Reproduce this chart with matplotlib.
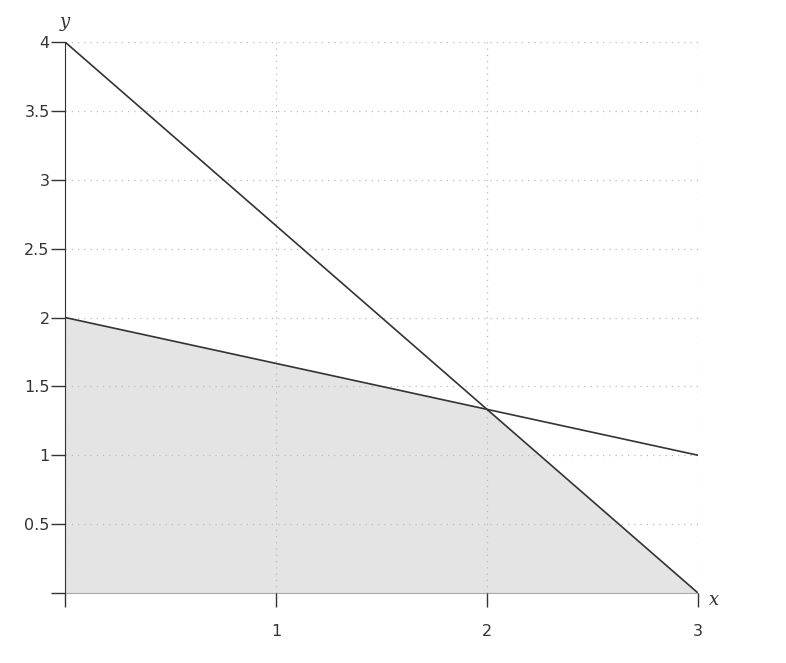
import numpy as np
import matplotlib
matplotlib.use('Agg')
import matplotlib.pyplot as plt

## data ##
line1_x = [0, 3]
line1_y = [4, 0]
line2_x = [0, 3]
line2_y = [2, 1]
region_x = [0, 0, 2, 3]
region_y = [0, 2, 4 / 3, 0]
x_ticks = [0, 1, 2, 3]
x_labels = ['', '1', '2', '3']
y_ticks = [0, 0.5, 1, 1.5, 2, 2.5, 3, 3.5, 4]
y_labels = ['', '0.5', '1', '1.5', '2', '2.5', '3', '3.5', '4']

## plotting ##
fig = plt.figure(figsize=(7.86, 6.63), dpi=100)
ax = fig.add_axes([65 / 786, 70 / 663, 633 / 786, 551 / 663])

ax.fill(region_x, region_y, color='#e4e4e4', lw=0, zorder=1)
ax.plot(line1_x, line1_y, color='#333333', lw=1.2, zorder=3)
ax.plot(line2_x, line2_y, color='#333333', lw=1.2, zorder=3)

ax.set_xlim(0, 3)
ax.set_ylim(0, 4)
ax.set_xticks(x_ticks, x_labels)
ax.set_yticks(y_ticks, y_labels)
ax.tick_params(direction='out', length=10, width=1, color='#333333',
               labelsize=11.5, labelcolor='#333333')
ax.tick_params(axis='y', pad=1)
ax.tick_params(axis='x', pad=12)

ax.grid(True, linestyle=(0, (1, 4)), color='#bbbbbb', lw=0.9, zorder=2)
ax.set_axisbelow(False)
for s in ['top', 'right']:
    ax.spines[s].set_visible(False)
ax.spines['left'].set_color('#333333')
ax.spines['bottom'].set_color('#aaaaaa')
ax.spines['left'].set_zorder(4)

ax.text(3.05, -0.05, 'x', fontsize=13, family='DejaVu Serif', style='italic',
        va='center', ha='left', color='#333333')
ax.text(0.0, 4.08, 'y', fontsize=13, family='DejaVu Serif', style='italic',
        va='bottom', ha='center', color='#333333')

fig.savefig('out.png', dpi=100)
